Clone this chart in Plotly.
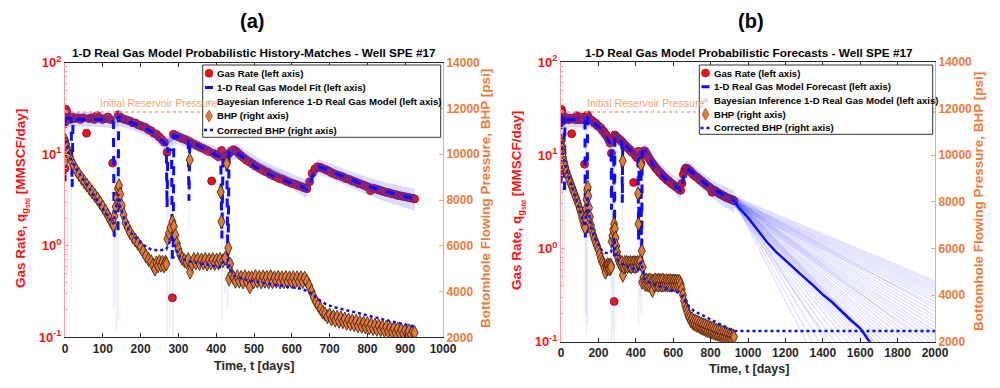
import plotly.graph_objects as go

# ---------------- data ----------------
gas_t = [0, 0.5, 2, 5, 9, 14, 20, 27, 34, 41,
         48, 57, 64, 71, 78, 85, 92, 99, 106, 113,
         120, 126, 141, 146, 152, 158, 165, 172, 179, 186,
         193, 200, 207, 214, 221, 228, 235, 242, 249, 256,
         263, 270, 284, 287, 293, 299, 305, 311, 318, 325,
         332, 339, 346, 353, 360, 367, 374, 381, 388, 394,
         400, 406, 414, 421, 427, 434, 440, 446, 452, 459,
         466, 473, 480, 488, 496, 504, 512, 520, 528, 536,
         544, 552, 560, 568, 576, 584, 592, 600, 608, 616,
         624, 632, 640, 647, 654, 661, 668, 675, 682, 689,
         696, 704, 712, 720, 728, 736, 744, 752, 760, 768,
         776, 784, 792, 800, 808, 816, 824, 832, 840, 848,
         856, 864, 872, 880, 888, 896, 904, 912, 920, 925]
gas_q = [7.0, 22.5, 31, 29, 25, 24, 25.5, 24.5, 25, 24,
         25, 17, 24.5, 25, 24, 26.5, 25, 24, 24.5, 25.5,
         24, 8.0, 27, 25.5, 24.5, 24, 23.5, 23, 22, 22,
         21, 20.5, 20, 19.5, 18.5, 18, 17, 16.5, 15.5, 14.5,
         13.5, 10.5, 0.27, 16.5, 16, 15.5, 15.2, 14.8, 14.5, 14,
         13.5, 13, 12.6, 12.2, 11.8, 11.5, 11.1, 10.7, 5.1, 10.2,
         9.8, 9.4, 11, 9.3, 8.2, 10.2, 10.8, 11.2, 10.8, 10.2,
         9.6, 9.1, 8.6, 8.2, 7.8, 7.4, 7.1, 6.8, 6.5, 6.3,
         6.0, 5.8, 5.6, 5.4, 5.3, 5.1, 4.95, 4.8, 4.7, 4.55,
         4.45, 4.3, 4.2, 5.0, 6.2, 6.9, 7.3, 7.2, 7.0, 6.8,
         6.6, 6.3, 6.1, 5.9, 5.8, 5.6, 5.4, 5.3, 5.1, 5.0,
         4.8, 4.7, 4.55, 4.4, 4.0, 4.25, 4.15, 4.05, 3.95, 3.85,
         3.8, 3.7, 3.65, 3.55, 3.5, 3.45, 3.4, 3.35, 3.3, 3.25]

fit_t = [0, 1, 3, 6, 10, 14, 16, 17.5, 19, 21,
         30, 50, 70, 90, 110, 125, 128, 130, 140, 142,
         150, 170, 190, 210, 230, 250, 266, 268, 270, 272,
         282, 284, 286, 288, 300, 320, 326, 328, 330, 350,
         370, 390, 410, 412, 415, 418, 425, 428, 431, 434,
         440, 448, 460, 480, 500, 530, 560, 600, 630, 640,
         645, 655, 665, 672, 690, 720, 760, 800, 850, 900,
         925]
fit_q = [5, 28, 27, 25, 24.5, 24.5, 24, 4.4, 4.4, 24,
         24, 24, 24, 24, 24, 23.5, 22, 1.3, 1.25, 26,
         24.5, 22.5, 21, 19.5, 17.5, 15, 13, 12.5, 2.6, 11.5,
         11, 0.75, 0.75, 16, 15.5, 14.3, 13.8, 3.1, 13.6, 12.5,
         11.2, 10.2, 9.3, 9.2, 1.2, 9.3, 9, 8.8, 0.55, 10.5,
         11, 11, 10, 8.6, 7.4, 6.3, 5.5, 4.8, 4.35, 4.1,
         4.0, 5.8, 7.0, 7.3, 6.8, 6.0, 5.2, 4.5, 3.9, 3.45,
         3.25]

# Bayesian ensemble envelope during history (outer and inner)
band_t = [0, 5, 12, 20, 40, 80, 120, 128, 140, 150,
          175, 200, 225, 250, 268, 288, 300, 340, 380, 410,
          440, 455, 480, 520, 560, 600, 638, 650, 670, 700,
          750, 800, 850, 900, 925]
band_hi = [36, 34, 30, 29, 29, 29, 28, 27, 30, 28,
           26, 23.5, 21, 17.5, 15, 18.5, 18, 15, 13, 11.5,
           12.5, 13, 11, 8.6, 7.2, 6.1, 5.3, 6.5, 8.8, 8.0,
           6.6, 5.6, 4.9, 4.4, 4.2]
band_lo = [16, 20, 20, 20, 20, 20, 19.5, 19, 20, 20,
           18.5, 17, 15, 12.5, 10.5, 13, 12.8, 11, 9.5, 8,
           8.5, 9, 7.8, 6.0, 5.0, 4.2, 3.3, 4.5, 6.0, 5.5,
           4.4, 3.6, 3.0, 2.6, 2.4]
core_hi = [31, 30, 27, 26.5, 26.5, 26.5, 26, 25, 28, 26,
           24, 22, 19.5, 16.2, 14, 17.3, 16.8, 14, 12, 10.6,
           11.6, 12, 10, 7.9, 6.6, 5.5, 4.8, 6.0, 8.0, 7.3,
           6.0, 5.0, 4.3, 3.8, 3.6]
core_lo = [20, 23, 22.5, 22.5, 22.5, 22.5, 22, 21, 22.5, 22.5,
           20.5, 19, 17, 14, 12, 14.5, 14.2, 12.3, 10.5, 8.9,
           9.5, 10, 8.6, 6.7, 5.6, 4.7, 3.8, 5.0, 6.7, 6.1,
           4.9, 4.1, 3.5, 3.1, 2.9]
# faint ensemble streaks at shut-ins
streak_t = [8, 17, 130, 136, 141, 270, 278, 285, 328, 415, 423, 430]
streak_top = [25, 24, 22, 22, 26, 12, 11, 15, 13, 9, 9, 10]
streak_bot = [0.5, 0.3, 0.2, 0.12, 0.15, 0.1, 0.12, 0.1, 1.5, 0.15, 0.3, 0.2]

# forecast (panel b)
fc_t = [925, 950, 1000, 1050, 1100, 1150, 1200, 1250, 1300, 1350,
        1400, 1450, 1500, 1550, 1600, 1650, 1700]
fc_q = [3.25, 2.75, 2.15, 1.6, 1.18, 0.92, 0.74, 0.6, 0.49, 0.4,
        0.32, 0.265, 0.21, 0.17, 0.139, 0.1, 0.08]
fan_t0 = 925
fan_q0 = [3.6, 3.5, 3.4, 3.3, 3.25, 3.2, 3.15, 3.1, 3.05, 3.0, 2.9]
fan_t1 = 2000
fan_q1 = [0.45, 0.43, 0.41, 0.39, 0.37, 0.35, 0.33, 0.31, 0.29, 0.27,
          0.25, 0.23, 0.21, 0.19, 0.175, 0.16, 0.145, 0.13, 0.12, 0.11,
          0.1, 0.09, 0.08, 0.072, 0.065, 0.058, 0.05, 0.045, 0.04, 0.035,
          0.031, 0.027, 0.024, 0.021, 0.019, 0.017, 0.015, 0.013, 0.011, 0.009,
          0.007, 0.005, 0.0035, 0.0025, 0.0015, 0.0008, 0.0004, 0.0002]

bhp_t = [0, 1, 3, 5, 8, 12, 17, 23, 30, 37,
         44, 51, 58, 65, 72, 79, 86, 93, 100, 107,
         113, 119, 124, 128, 131, 134, 137, 140, 143, 146,
         150, 155, 160, 166, 172, 179, 186, 193, 200, 207,
         214, 221, 228, 233, 238, 242, 246, 250, 254, 258,
         262, 266, 268, 271, 275, 279, 284, 288, 292, 296,
         300, 305, 310, 316, 322, 326, 330, 331, 336, 341,
         346, 351, 356, 361, 366, 371, 376, 381, 386, 391,
         396, 401, 406, 410, 412, 414, 418, 424, 428, 432,
         434, 437, 441, 446, 451, 456, 461, 466, 471, 476,
         481, 486, 489, 494, 499, 504, 509, 514, 519, 524,
         529, 534, 539, 544, 549, 554, 559, 564, 569, 574,
         579, 584, 589, 594, 599, 604, 609, 614, 619, 624,
         629, 634, 640, 646, 652, 658, 664, 670, 676, 682,
         688, 694, 700, 705, 710, 715, 720, 725, 730, 735,
         740, 745, 750, 755, 760, 765, 770, 775, 780, 785,
         790, 795, 800, 805, 810, 815, 820, 825, 830, 835,
         840, 845, 850, 855, 860, 865, 870, 875, 880, 885,
         890, 895, 900, 905, 910, 915, 920, 925]
bhp_p = [9700, 10600, 10450, 10300, 10100, 9900, 9700, 9500, 9300, 9120,
         8950, 8800, 8650, 8500, 8350, 8200, 8050, 7880, 7700, 7520,
         7330, 7150, 7000, 6900, 7300, 7700, 8100, 8500, 8620, 8250,
         7750, 7350, 7000, 6780, 6580, 6400, 6250, 6100, 5950, 5750,
         5550, 5400, 5300, 5150, 4980, 5250, 5120, 5300, 5150, 5280,
         5120, 5280, 5200, 6300, 6550, 6800, 7050, 6850, 6450, 6100,
         5850, 5600, 5450, 5350, 5280, 5400, 9750, 4850, 5200, 5400,
         5250, 5400, 5220, 5380, 5250, 5400, 5200, 5380, 5250, 5400,
         5220, 5380, 5250, 5400, 8350, 7050, 5350, 5450, 9600, 5900,
         4550, 5200, 4750, 4600, 4450, 4650, 4450, 4620, 4420, 4650,
         4450, 4600, 4200, 4600, 4430, 4650, 4450, 4620, 4420, 4640,
         4450, 4620, 4420, 4650, 4430, 4600, 4450, 4620, 4420, 4600,
         4430, 4620, 4420, 4600, 4450, 4610, 4420, 4600, 4440, 4600,
         4430, 4580, 4450, 4250, 4000, 3750, 3550, 3400, 3250, 3100,
         3020, 2900, 2980, 2800, 2900, 2750, 2880, 2700, 2850, 2680,
         2800, 2620, 2760, 2580, 2720, 2550, 2700, 2500, 2650, 2480,
         2620, 2450, 2600, 2420, 2560, 2380, 2520, 2350, 2500, 2330,
         2460, 2300, 2440, 2270, 2400, 2240, 2380, 2200, 2350, 2180,
         2320, 2160, 2300, 2150, 2280, 2120, 2250, 2200]

cbhp_t = [0, 5, 15, 30, 48, 66, 84, 100, 115, 128,
          133, 138, 141, 146, 155, 163, 180, 198, 215, 230,
          250, 268, 275, 284, 290, 297, 304, 320, 350, 380,
          410, 416, 422, 430, 437, 445, 480, 533, 580, 621,
          640, 652, 674, 690, 709, 750, 797, 850, 900, 925]
cbhp_p = [10600, 10300, 9800, 9350, 8900, 8450, 7970, 7600, 7250, 6950,
          7400, 7900, 8250, 7700, 7200, 6850, 6450, 6160, 5950, 5820,
          5800, 5850, 6100, 6450, 6000, 5700, 5500, 5350, 5250, 5170,
          5070, 5250, 5350, 5400, 5000, 4710, 4500, 4350, 4250, 4130,
          4030, 3910, 3620, 3450, 3330, 3150, 2970, 2750, 2560, 2460]
cbhp_fc_t = [925, 2000]
cbhp_fc_p = [2460, 2460]

p_init = 11850

xtick_a = list(range(0, 1001, 100))
xtick_b = list(range(0, 2001, 200))
ltick_vals = [0.1, 1, 10, 100]
ltick_text = ["10<sup>-1</sup>", "10<sup>0</sup>", "10<sup>1</sup>", "10<sup>2</sup>"]
rtick_vals = [2000, 4000, 6000, 8000, 10000, 12000, 14000]
rtick_text = ["2000", "4000", "6000", "8000", "10000", "12000", "14000"]

title_a = "1-D Real Gas Model Probabilistic History-Matches - Well SPE #17"
title_b = "1-D Real Gas Model Probabilistic Forecasts - Well SPE #17"
leg_a = ["Gas Rate (left axis)", "1-D Real Gas Model Fit (left axis)",
         "Bayesian Inference 1-D Real Gas Model (left axis)", "BHP (right axis)",
         "Corrected BHP (right axis)"]
leg_b = ["Gas Rate (left axis)", "1-D Real Gas Model Forecast (left axis)",
         "Bayesian Inference 1-D Real Gas Model (left axis)", "BHP (right axis)",
         "Corrected BHP (right axis)"]

# ---------------- styling ----------------
W, H = 1000, 388
NARROW = "Liberation Sans Narrow, Arial Narrow, Liberation Sans, Arial, sans-serif"
WIDE = "Liberation Sans, Arial, sans-serif"
RED = "#ff1010"
ORANGE = "#ef7b3a"
ORANGE_LINE = "#f5a77a"
PINK_LINE = "#ff9a9a"
BLUE = "#0b0bff"
DIAM = "#e27b3a"
DARK = "#262626"


def px(x):
    return x / W


def py(y):
    return 1 - y / H


fig = go.Figure()


def add_panel(xa, ya, ya2, forecast):
    xref = xa
    fig.add_trace(go.Scatter(x=gas_t, y=gas_q, mode="markers", xaxis=xref, yaxis=ya,
                             marker=dict(symbol="circle", size=8, color="#ee1111",
                                         line=dict(color="#7a0c3a", width=0.8)),
                             showlegend=False))
    for hi, lo, col in ((band_hi, band_lo, "rgba(90,90,255,0.22)"),
                        (core_hi, core_lo, "rgba(30,30,230,0.32)")):
        fig.add_trace(go.Scatter(x=band_t, y=hi, mode="lines", xaxis=xref, yaxis=ya,
                                 line=dict(width=0, color="rgba(0,0,0,0)"),
                                 showlegend=False, hoverinfo="skip"))
        fig.add_trace(go.Scatter(x=band_t, y=lo, mode="lines", xaxis=xref, yaxis=ya,
                                 line=dict(width=0, color="rgba(0,0,0,0)"), fill="tonexty",
                                 fillcolor=col, showlegend=False, hoverinfo="skip"))
    sx, sy = [], []
    for t, a, b in zip(streak_t, streak_top, streak_bot):
        sx += [t, t, None]
        sy += [a, b, None]
    fig.add_trace(go.Scatter(x=sx, y=sy, mode="lines", xaxis=xref, yaxis=ya,
                             line=dict(width=1.5, color="rgba(120,120,255,0.15)"),
                             showlegend=False, hoverinfo="skip"))
    if forecast:
        for i, q1 in enumerate(fan_q1):
            q0 = fan_q0[i % len(fan_q0)]
            fig.add_trace(go.Scatter(x=[fan_t0, fan_t1], y=[q0, q1], mode="lines",
                                     xaxis=xref, yaxis=ya,
                                     line=dict(width=1.2, color="rgba(60,60,255,0.17)"),
                                     showlegend=False, hoverinfo="skip"))
    fig.add_trace(go.Scatter(x=fit_t, y=fit_q, mode="lines", xaxis=xref, yaxis=ya,
                             line=dict(color=BLUE, width=3, dash="dash"),
                             showlegend=False))
    if forecast:
        fig.add_trace(go.Scatter(x=fc_t, y=fc_q, mode="lines", xaxis=xref, yaxis=ya,
                                 line=dict(color=BLUE, width=2.5), showlegend=False))
    fig.add_trace(go.Scatter(x=[0, fan_t1 if forecast else 1000], y=[p_init, p_init],
                             mode="lines", xaxis=xref, yaxis=ya2,
                             line=dict(color=ORANGE_LINE, width=1.5, dash="dot"),
                             showlegend=False))
    fig.add_trace(go.Scatter(x=bhp_t, y=bhp_p, mode="markers", xaxis=xref, yaxis=ya2,
                             marker=dict(symbol="diamond-tall", size=10, color=DIAM,
                                         line=dict(color="#3a1800", width=0.8)),
                             showlegend=False))
    ct = cbhp_t + (cbhp_fc_t if forecast else [])
    cp = cbhp_p + (cbhp_fc_p if forecast else [])
    fig.add_trace(go.Scatter(x=ct, y=cp, mode="lines", xaxis=xref, yaxis=ya2,
                             line=dict(color=BLUE, width=2.5, dash="dot"),
                             showlegend=False))


add_panel("x", "y", "y2", False)
add_panel("x2", "y3", "y4", True)

minor_vals = [m * 10 ** e for e in (-1, 0, 1) for m in range(2, 10)]

xcommon = dict(showgrid=False, zeroline=False, showline=True, linecolor=DARK, linewidth=1,
               mirror="ticks", ticks="inside", ticklen=4, tickcolor=DARK,
               tickfont=dict(family=NARROW, size=12, color=DARK, weight="bold"))
lcommon = dict(type="log", range=[-1, 2], showgrid=False, zeroline=False, showline=True,
               linecolor=PINK_LINE, linewidth=1, ticks="inside", ticklen=4,
               tickcolor=PINK_LINE, tickvals=ltick_vals, ticktext=ltick_text,
               tickfont=dict(family=NARROW, size=13, color=RED, weight="bold"),
               minor=dict(tickvals=minor_vals, ticks="inside", ticklen=2,
                          tickcolor=PINK_LINE))
rcommon = dict(range=[2000, 14000], showgrid=False, zeroline=False, showline=True,
               linecolor=ORANGE_LINE, linewidth=1, ticks="inside", ticklen=4,
               tickcolor=ORANGE_LINE, tickvals=rtick_vals, ticktext=rtick_text,
               side="right",
               tickfont=dict(family=NARROW, size=12, color=ORANGE, weight="bold"))

fig.update_layout(
    width=W, height=H, margin=dict(l=0, r=0, t=0, b=0, autoexpand=False),
    paper_bgcolor="white", plot_bgcolor="white", showlegend=False,
    xaxis=dict(domain=[px(65), px(443)], range=[0, 1000], tickvals=xtick_a,
               anchor="y", **xcommon),
    yaxis=dict(domain=[py(337.3), py(62.7)], anchor="x", **lcommon),
    yaxis2=dict(overlaying="y", anchor="x", **rcommon),
    xaxis2=dict(domain=[px(561), px(935)], range=[0, 2000], tickvals=xtick_b,
                anchor="y3", **xcommon),
    yaxis3=dict(domain=[py(341.7), py(62)], anchor="x2", **lcommon),
    yaxis4=dict(overlaying="y3", anchor="x2", **rcommon),
)

ann = []
shapes = []


def text(x, y, s, size, color="black", family=NARROW, weight="bold", angle=0,
         xanchor="center"):
    ann.append(dict(x=px(x), y=py(y), xref="paper", yref="paper", text=s, showarrow=False,
                    textangle=angle, xanchor=xanchor, yanchor="middle",
                    font=dict(family=family, size=size, color=color, weight=weight)))


text(252, 21, "(a)", 20, family=WIDE)
text(751, 21, "(b)", 20, family=WIDE)
text(253.5, 53, title_a, 11.8)
text(749, 53, title_b, 11.8)
text(254, 366, "Time, t [days]", 12.5, color=DARK)
text(749, 369, "Time, t [days]", 12.5, color=DARK)
ytitle_l = "Gas Rate, q<sub>g<sub>std</sub></sub> [MMSCF/day]"
ytitle_r = "Bottomhole Flowing Pressure, BHP [psi]"
text(22, 199, ytitle_l, 13.5, color=RED, angle=-90)
text(518, 201, ytitle_l, 13.5, color=RED, angle=-90)
text(486, 199, ytitle_r, 13.5, color=ORANGE, angle=-90)
text(978, 202, ytitle_r, 13.5, color=ORANGE, angle=-90)
text(98, 103.5, "Initial Reservoir Pressure", 10.5, color="#f6a373", weight="normal",
     xanchor="left")
text(585, 103.5, "Initial Reservoir Pressure", 10.5, color="#f6a373", weight="normal",
     xanchor="left")


def legend(x0, x1, y0, y1, sym_x, txt_x, rows, labels):
    shapes.append(dict(type="rect", xref="paper", yref="paper", x0=px(x0), x1=px(x1),
                       y0=py(y1), y1=py(y0), line=dict(color="#333333", width=1),
                       fillcolor="white", layer="above"))
    for i, (ry, lab) in enumerate(zip(rows, labels)):
        text(txt_x, ry, lab, 9.6, xanchor="left")
        if i == 0:
            shapes.append(dict(type="circle", xref="paper", yref="paper",
                               x0=px(sym_x - 4), x1=px(sym_x + 4), y0=py(ry + 4),
                               y1=py(ry - 4), fillcolor="#ee1111",
                               line=dict(color="#b00000", width=0.5), layer="above"))
        elif i == 1:
            shapes.append(dict(type="line", xref="paper", yref="paper",
                               x0=px(sym_x - 4), x1=px(sym_x + 4), y0=py(ry), y1=py(ry),
                               line=dict(color=BLUE, width=3), layer="above"))
        elif i == 2:
            shapes.append(dict(type="circle", xref="paper", yref="paper",
                               x0=px(sym_x - 2.5), x1=px(sym_x + 2.5), y0=py(ry + 2.5),
                               y1=py(ry - 2.5), fillcolor="#dcdcff",
                               line=dict(width=0), layer="above"))
        elif i == 3:
            path = "M {} {} L {} {} L {} {} L {} {} Z".format(
                px(sym_x), py(ry - 6), px(sym_x + 3.5), py(ry), px(sym_x), py(ry + 6),
                px(sym_x - 3.5), py(ry))
            shapes.append(dict(type="path", xref="paper", yref="paper", path=path,
                               fillcolor=DIAM, line=dict(color="#8a4010", width=0.6),
                               layer="above"))
        else:
            shapes.append(dict(type="line", xref="paper", yref="paper",
                               x0=px(sym_x - 5), x1=px(sym_x + 4), y0=py(ry), y1=py(ry),
                               line=dict(color=BLUE, width=2.5, dash="dot"), layer="above"))


legend(202.7, 440.7, 65, 137.3, 209, 215, [73.3, 87.5, 101.7, 115.9, 130.1], leg_a)
legend(699.3, 932.7, 65, 134.3, 705.5, 711.7, [73, 86.75, 100.5, 114.25, 128], leg_b)

fig.update_layout(annotations=ann, shapes=shapes)
fig.write_html("out.html", config={"responsive": False, "displayModeBar": False},
               post_script="document.body.style.margin='0px';document.body.style.overflow='hidden';")
